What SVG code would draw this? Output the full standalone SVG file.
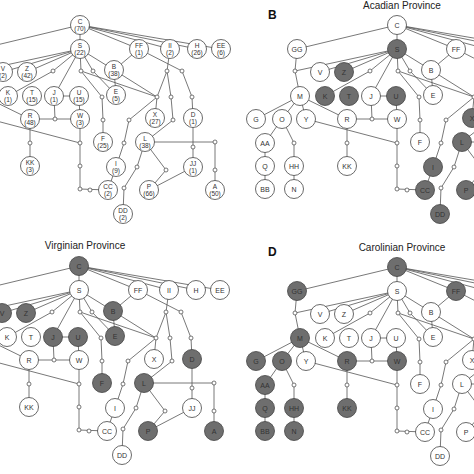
<svg xmlns="http://www.w3.org/2000/svg" xmlns:xlink="http://www.w3.org/1999/xlink" width="474" height="474" viewBox="0 0 474 474">
<style>
.e{stroke:#555;stroke-width:0.8;fill:none}
.d{fill:#fff;stroke:#555;stroke-width:0.8}
.n circle{fill:#fff;stroke:#444;stroke-width:0.8}
.n.k circle{fill:#6e6e6e}
.n text{font-family:"Liberation Sans",Arial,sans-serif;font-size:7px;fill:#333;text-anchor:middle}
.a text{font-size:6.5px}
.t{font-family:"Liberation Sans",Arial,sans-serif;font-size:10px;fill:#222;text-anchor:middle}
.p{font-family:"Liberation Sans",Arial,sans-serif;font-size:12px;font-weight:bold;fill:#111}
</style>
<defs>
<g id="net">
<path class="e" d="M80,25L80,49M80,25L-20,49M80,25L139,49M80,25L170,49M80,25L197,49M80,25L221,49
M80,49L-22,71M-20,49L-22,71L-17,96M80,49L3,72M80,49L27,72M80,49L53,71L8,96M80,49L54,96
M80,49L81,71L102,97L103,120L103,142M81,71L157,97M80,49L93,71L116,95M80,49L114,70L116,95M114,70L139,49
M114,70L157,97M139,49L182,71L192,97L193,118M170,49L167,71L157,97M167,71L171,97L173,120L145,142
M157,97L155,118M157,97L129,120L124,143L116,167M116,167L108,190
M54,96L55,119M30,119L80,119M79,96L80,119M54,96L79,96
M-17,96L-61,119M-17,96L-35,119M-17,96L-11,119M-17,96L30,119
M-35,119L-52,143L-52,189M-35,119L-23,143L-23,189M30,119L30,166
M80,119L80,189L108,190M-11,119L80,143
M145,142L137,167L124,188L123,214M145,142L166,170L149,190M149,190L193,167
M145,142L215,142L215,190M193,118L193,167"/>
<g class="d">
<circle cx="-22" cy="71" r="2"/><circle cx="53" cy="71" r="2"/><circle cx="81" cy="71" r="2"/><circle cx="93" cy="71" r="2"/>
<circle cx="157" cy="97" r="2"/><circle cx="102" cy="97" r="2"/><circle cx="103" cy="120" r="2"/><circle cx="129" cy="120" r="2"/>
<circle cx="124" cy="143" r="2"/><circle cx="167" cy="71" r="2"/><circle cx="182" cy="71" r="2"/><circle cx="171" cy="97" r="2"/>
<circle cx="192" cy="97" r="2"/><circle cx="173" cy="120" r="2"/><circle cx="55" cy="119" r="2"/><circle cx="30" cy="143" r="2"/>
<circle cx="80" cy="143" r="2"/><circle cx="80" cy="166" r="2"/><circle cx="80" cy="189" r="2"/><circle cx="90" cy="190" r="2"/>
<circle cx="137" cy="167" r="2"/><circle cx="124" cy="188" r="2"/><circle cx="166" cy="170" r="2"/><circle cx="215" cy="142" r="2"/>
<circle cx="215" cy="170" r="2"/><circle cx="193" cy="147" r="2"/><circle cx="-23" cy="143" r="2"/>
</g>
</g>
</defs>
<g id="connectors">
<use xlink:href="#net"/>
<use xlink:href="#net" transform="translate(317,0)"/>
<use xlink:href="#net" transform="translate(-1,241)"/>
<use xlink:href="#net" transform="translate(317,242)"/>
</g>
<g id="panelA">
<g id="A-C" class="n a" transform="translate(80,25)"><circle r="9.5"/><text y="-1.5">C</text><text y="5.5">(70)</text></g>
<g id="A-S" class="n a" transform="translate(80,49)"><circle r="9.5"/><text y="-1.5">S</text><text y="5.5">(22)</text></g>
<g id="A-FF" class="n a" transform="translate(139,49)"><circle r="9.5"/><text y="-1.5">FF</text><text y="5.5">(1)</text></g>
<g id="A-II" class="n a" transform="translate(170,49)"><circle r="9.5"/><text y="-1.5">II</text><text y="5.5">(2)</text></g>
<g id="A-H" class="n a" transform="translate(197,49)"><circle r="9.5"/><text y="-1.5">H</text><text y="5.5">(26)</text></g>
<g id="A-EE" class="n a" transform="translate(221,49)"><circle r="9.5"/><text y="-1.5">EE</text><text y="5.5">(6)</text></g>
<g id="A-V" class="n a" transform="translate(3,72)"><circle r="9.5"/><text y="-1.5">V</text><text y="5.5">(2)</text></g>
<g id="A-Z" class="n a" transform="translate(27,72)"><circle r="9.5"/><text y="-1.5">Z</text><text y="5.5">(42)</text></g>
<g id="A-B" class="n a" transform="translate(114,70)"><circle r="9.5"/><text y="-1.5">B</text><text y="5.5">(38)</text></g>
<g id="A-K" class="n a" transform="translate(8,96)"><circle r="9.5"/><text y="-1.5">K</text><text y="5.5">(1)</text></g>
<g id="A-T" class="n a" transform="translate(32,96)"><circle r="9.5"/><text y="-1.5">T</text><text y="5.5">(15)</text></g>
<g id="A-J" class="n a" transform="translate(54,96)"><circle r="9.5"/><text y="-1.5">J</text><text y="5.5">(1)</text></g>
<g id="A-U" class="n a" transform="translate(79,96)"><circle r="9.5"/><text y="-1.5">U</text><text y="5.5">(15)</text></g>
<g id="A-E" class="n a" transform="translate(116,95)"><circle r="9.5"/><text y="-1.5">E</text><text y="5.5">(5)</text></g>
<g id="A-R" class="n a" transform="translate(30,119)"><circle r="9.5"/><text y="-1.5">R</text><text y="5.5">(48)</text></g>
<g id="A-W" class="n a" transform="translate(80,119)"><circle r="9.5"/><text y="-1.5">W</text><text y="5.5">(3)</text></g>
<g id="A-X" class="n a" transform="translate(155,118)"><circle r="9.5"/><text y="-1.5">X</text><text y="5.5">(27)</text></g>
<g id="A-D" class="n a" transform="translate(193,118)"><circle r="9.5"/><text y="-1.5">D</text><text y="5.5">(1)</text></g>
<g id="A-F" class="n a" transform="translate(103,142)"><circle r="9.5"/><text y="-1.5">F</text><text y="5.5">(25)</text></g>
<g id="A-L" class="n a" transform="translate(145,142)"><circle r="9.5"/><text y="-1.5">L</text><text y="5.5">(38)</text></g>
<g id="A-KK" class="n a" transform="translate(30,166)"><circle r="9.5"/><text y="-1.5">KK</text><text y="5.5">(3)</text></g>
<g id="A-I" class="n a" transform="translate(116,167)"><circle r="9.5"/><text y="-1.5">I</text><text y="5.5">(9)</text></g>
<g id="A-JJ" class="n a" transform="translate(193,167)"><circle r="9.5"/><text y="-1.5">JJ</text><text y="5.5">(1)</text></g>
<g id="A-CC" class="n a" transform="translate(108,190)"><circle r="9.5"/><text y="-1.5">CC</text><text y="5.5">(2)</text></g>
<g id="A-P" class="n a" transform="translate(149,190)"><circle r="9.5"/><text y="-1.5">P</text><text y="5.5">(66)</text></g>
<g id="A-A" class="n a" transform="translate(215,190)"><circle r="9.5"/><text y="-1.5">A</text><text y="5.5">(50)</text></g>
<g id="A-DD" class="n a" transform="translate(123,214)"><circle r="9.5"/><text y="-1.5">DD</text><text y="5.5">(2)</text></g>
</g>
<g id="panelB" transform="translate(317,0)">
<g id="B-C" class="n" transform="translate(80,25)"><circle r="9.5"/><text y="2.5">C</text></g>
<g id="B-GG" class="n" transform="translate(-20,49)"><circle r="9.5"/><text y="2.5">GG</text></g>
<g id="B-S" class="n k" transform="translate(80,49)"><circle r="9.5"/><text y="2.5">S</text></g>
<g id="B-FF" class="n" transform="translate(139,49)"><circle r="9.5"/><text y="2.5">FF</text></g>
<g id="B-V" class="n" transform="translate(3,72)"><circle r="9.5"/><text y="2.5">V</text></g>
<g id="B-Z" class="n k" transform="translate(27,72)"><circle r="9.5"/><text y="2.5">Z</text></g>
<g id="B-B" class="n" transform="translate(114,70)"><circle r="9.5"/><text y="2.5">B</text></g>
<g id="B-M" class="n" transform="translate(-17,96)"><circle r="9.5"/><text y="2.5">M</text></g>
<g id="B-K" class="n k" transform="translate(8,96)"><circle r="9.5"/><text y="2.5">K</text></g>
<g id="B-T" class="n k" transform="translate(32,96)"><circle r="9.5"/><text y="2.5">T</text></g>
<g id="B-J" class="n" transform="translate(54,96)"><circle r="9.5"/><text y="2.5">J</text></g>
<g id="B-U" class="n k" transform="translate(79,96)"><circle r="9.5"/><text y="2.5">U</text></g>
<g id="B-E" class="n" transform="translate(116,95)"><circle r="9.5"/><text y="2.5">E</text></g>
<g id="B-G" class="n" transform="translate(-61,119)"><circle r="9.5"/><text y="2.5">G</text></g>
<g id="B-O" class="n" transform="translate(-35,119)"><circle r="9.5"/><text y="2.5">O</text></g>
<g id="B-Y" class="n" transform="translate(-11,119)"><circle r="9.5"/><text y="2.5">Y</text></g>
<g id="B-R" class="n" transform="translate(30,119)"><circle r="9.5"/><text y="2.5">R</text></g>
<g id="B-W" class="n" transform="translate(80,119)"><circle r="9.5"/><text y="2.5">W</text></g>
<g id="B-X" class="n k" transform="translate(155,118)"><circle r="9.5"/><text y="2.5">X</text></g>
<g id="B-AA" class="n" transform="translate(-52,143)"><circle r="9.5"/><text y="2.5">AA</text></g>
<g id="B-F" class="n" transform="translate(103,142)"><circle r="9.5"/><text y="2.5">F</text></g>
<g id="B-L" class="n k" transform="translate(145,142)"><circle r="9.5"/><text y="2.5">L</text></g>
<g id="B-Q" class="n" transform="translate(-52,166)"><circle r="9.5"/><text y="2.5">Q</text></g>
<g id="B-HH" class="n" transform="translate(-23,166)"><circle r="9.5"/><text y="2.5">HH</text></g>
<g id="B-KK" class="n" transform="translate(30,166)"><circle r="9.5"/><text y="2.5">KK</text></g>
<g id="B-I" class="n k" transform="translate(116,167)"><circle r="9.5"/><text y="2.5">I</text></g>
<g id="B-BB" class="n" transform="translate(-52,189)"><circle r="9.5"/><text y="2.5">BB</text></g>
<g id="B-N" class="n" transform="translate(-23,189)"><circle r="9.5"/><text y="2.5">N</text></g>
<g id="B-CC" class="n k" transform="translate(108,190)"><circle r="9.5"/><text y="2.5">CC</text></g>
<g id="B-P" class="n k" transform="translate(149,190)"><circle r="9.5"/><text y="2.5">P</text></g>
<g id="B-DD" class="n k" transform="translate(123,214)"><circle r="9.5"/><text y="2.5">DD</text></g>
</g>
<g id="panelC" transform="translate(-1,241)">
<g id="C-C" class="n k" transform="translate(80,25)"><circle r="9.5"/><text y="2.5">C</text></g>
<g id="C-S" class="n" transform="translate(80,49)"><circle r="9.5"/><text y="2.5">S</text></g>
<g id="C-FF" class="n" transform="translate(139,49)"><circle r="9.5"/><text y="2.5">FF</text></g>
<g id="C-II" class="n" transform="translate(170,49)"><circle r="9.5"/><text y="2.5">II</text></g>
<g id="C-H" class="n" transform="translate(197,49)"><circle r="9.5"/><text y="2.5">H</text></g>
<g id="C-EE" class="n" transform="translate(221,49)"><circle r="9.5"/><text y="2.5">EE</text></g>
<g id="C-V" class="n k" transform="translate(3,72)"><circle r="9.5"/><text y="2.5">V</text></g>
<g id="C-Z" class="n k" transform="translate(27,72)"><circle r="9.5"/><text y="2.5">Z</text></g>
<g id="C-B" class="n k" transform="translate(114,70)"><circle r="9.5"/><text y="2.5">B</text></g>
<g id="C-K" class="n" transform="translate(8,96)"><circle r="9.5"/><text y="2.5">K</text></g>
<g id="C-T" class="n" transform="translate(32,96)"><circle r="9.5"/><text y="2.5">T</text></g>
<g id="C-J" class="n k" transform="translate(54,96)"><circle r="9.5"/><text y="2.5">J</text></g>
<g id="C-U" class="n k" transform="translate(79,96)"><circle r="9.5"/><text y="2.5">U</text></g>
<g id="C-E" class="n k" transform="translate(116,95)"><circle r="9.5"/><text y="2.5">E</text></g>
<g id="C-R" class="n" transform="translate(30,119)"><circle r="9.5"/><text y="2.5">R</text></g>
<g id="C-W" class="n" transform="translate(80,119)"><circle r="9.5"/><text y="2.5">W</text></g>
<g id="C-X" class="n" transform="translate(155,118)"><circle r="9.5"/><text y="2.5">X</text></g>
<g id="C-D" class="n k" transform="translate(193,118)"><circle r="9.5"/><text y="2.5">D</text></g>
<g id="C-F" class="n k" transform="translate(103,142)"><circle r="9.5"/><text y="2.5">F</text></g>
<g id="C-L" class="n k" transform="translate(145,142)"><circle r="9.5"/><text y="2.5">L</text></g>
<g id="C-KK" class="n" transform="translate(30,166)"><circle r="9.5"/><text y="2.5">KK</text></g>
<g id="C-I" class="n" transform="translate(116,167)"><circle r="9.5"/><text y="2.5">I</text></g>
<g id="C-JJ" class="n" transform="translate(193,167)"><circle r="9.5"/><text y="2.5">JJ</text></g>
<g id="C-CC" class="n" transform="translate(108,190)"><circle r="9.5"/><text y="2.5">CC</text></g>
<g id="C-P" class="n k" transform="translate(149,190)"><circle r="9.5"/><text y="2.5">P</text></g>
<g id="C-A" class="n k" transform="translate(215,190)"><circle r="9.5"/><text y="2.5">A</text></g>
<g id="C-DD" class="n" transform="translate(123,214)"><circle r="9.5"/><text y="2.5">DD</text></g>
</g>
<g id="panelD" transform="translate(317,242)">
<g id="D-C" class="n k" transform="translate(80,25)"><circle r="9.5"/><text y="2.5">C</text></g>
<g id="D-GG" class="n k" transform="translate(-20,49)"><circle r="9.5"/><text y="2.5">GG</text></g>
<g id="D-S" class="n" transform="translate(80,49)"><circle r="9.5"/><text y="2.5">S</text></g>
<g id="D-FF" class="n k" transform="translate(139,49)"><circle r="9.5"/><text y="2.5">FF</text></g>
<g id="D-V" class="n" transform="translate(3,72)"><circle r="9.5"/><text y="2.5">V</text></g>
<g id="D-Z" class="n" transform="translate(27,72)"><circle r="9.5"/><text y="2.5">Z</text></g>
<g id="D-B" class="n" transform="translate(114,70)"><circle r="9.5"/><text y="2.5">B</text></g>
<g id="D-M" class="n k" transform="translate(-17,96)"><circle r="9.5"/><text y="2.5">M</text></g>
<g id="D-K" class="n" transform="translate(8,96)"><circle r="9.5"/><text y="2.5">K</text></g>
<g id="D-T" class="n" transform="translate(32,96)"><circle r="9.5"/><text y="2.5">T</text></g>
<g id="D-J" class="n" transform="translate(54,96)"><circle r="9.5"/><text y="2.5">J</text></g>
<g id="D-U" class="n" transform="translate(79,96)"><circle r="9.5"/><text y="2.5">U</text></g>
<g id="D-E" class="n" transform="translate(116,95)"><circle r="9.5"/><text y="2.5">E</text></g>
<g id="D-G" class="n k" transform="translate(-61,119)"><circle r="9.5"/><text y="2.5">G</text></g>
<g id="D-O" class="n k" transform="translate(-35,119)"><circle r="9.5"/><text y="2.5">O</text></g>
<g id="D-Y" class="n" transform="translate(-11,119)"><circle r="9.5"/><text y="2.5">Y</text></g>
<g id="D-R" class="n k" transform="translate(30,119)"><circle r="9.5"/><text y="2.5">R</text></g>
<g id="D-W" class="n k" transform="translate(80,119)"><circle r="9.5"/><text y="2.5">W</text></g>
<g id="D-X" class="n" transform="translate(155,118)"><circle r="9.5"/><text y="2.5">X</text></g>
<g id="D-AA" class="n k" transform="translate(-52,143)"><circle r="9.5"/><text y="2.5">AA</text></g>
<g id="D-F" class="n" transform="translate(103,142)"><circle r="9.5"/><text y="2.5">F</text></g>
<g id="D-L" class="n" transform="translate(145,142)"><circle r="9.5"/><text y="2.5">L</text></g>
<g id="D-Q" class="n k" transform="translate(-52,166)"><circle r="9.5"/><text y="2.5">Q</text></g>
<g id="D-HH" class="n k" transform="translate(-23,166)"><circle r="9.5"/><text y="2.5">HH</text></g>
<g id="D-KK" class="n k" transform="translate(30,166)"><circle r="9.5"/><text y="2.5">KK</text></g>
<g id="D-I" class="n" transform="translate(116,167)"><circle r="9.5"/><text y="2.5">I</text></g>
<g id="D-BB" class="n k" transform="translate(-52,189)"><circle r="9.5"/><text y="2.5">BB</text></g>
<g id="D-N" class="n k" transform="translate(-23,189)"><circle r="9.5"/><text y="2.5">N</text></g>
<g id="D-CC" class="n" transform="translate(108,190)"><circle r="9.5"/><text y="2.5">CC</text></g>
<g id="D-P" class="n" transform="translate(149,190)"><circle r="9.5"/><text y="2.5">P</text></g>
<g id="D-DD" class="n" transform="translate(123,214)"><circle r="9.5"/><text y="2.5">DD</text></g>
</g>
<g id="labels">
<text class="t" x="402" y="9">Acadian Province</text>
<text class="t" x="85" y="249">Virginian Province</text>
<text class="t" x="402" y="251">Carolinian Province</text>
<text class="p" x="268" y="19">B</text>
<text class="p" x="268" y="256">D</text>
</g>
</svg>
